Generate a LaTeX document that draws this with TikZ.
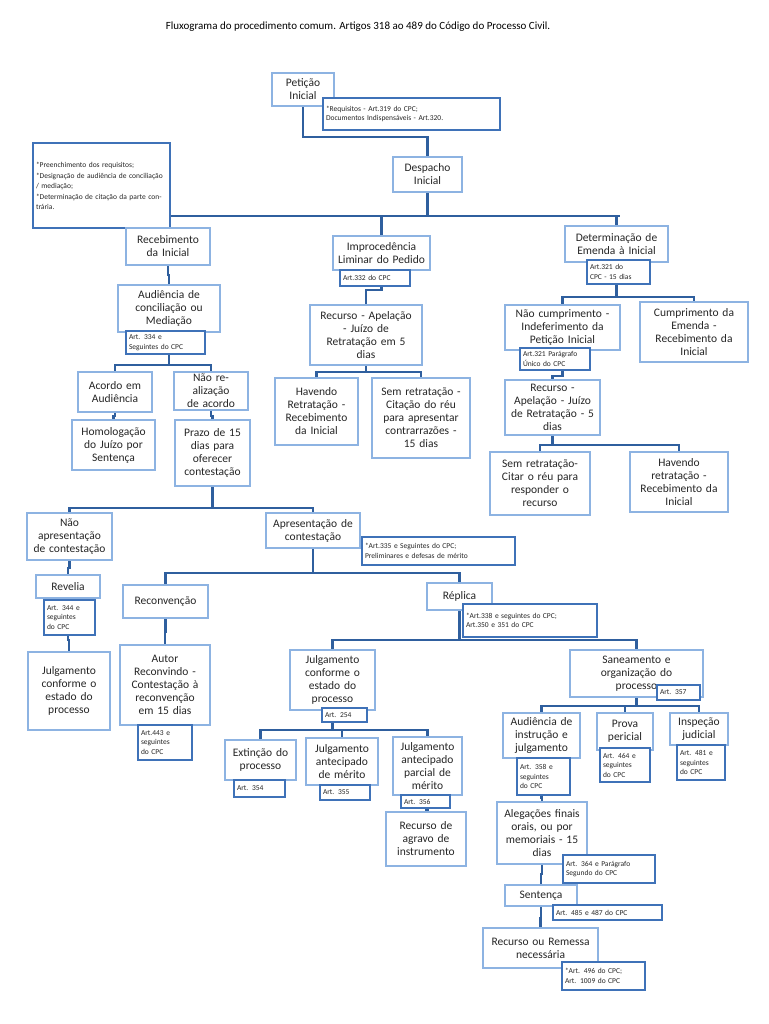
\documentclass[tikz,border=0pt]{standalone}
\usepackage{fontspec}
\setmainfont{Carlito}
\usetikzlibrary{backgrounds}
\definecolor{lb}{HTML}{8DB3E2}
\definecolor{db}{HTML}{3F72B8}
\definecolor{ln}{HTML}{2F5F9E}
\tikzset{
 mb/.style={draw=lb,line width=2.2pt,fill=white,align=center,inner sep=1pt,font=\fontsize{11.5}{13}\selectfont,text=black!85},
 nb/.style={draw=db,line width=2pt,fill=white,align=left,inner sep=1.5pt,font=\fontsize{7.5}{9.5}\selectfont,text=black!85},
 cn/.style={draw=ln,line width=2.2pt}
}
\newcommand\bx[7][mb]{\node[#1,minimum width={#5-#3},minimum height={#6-#4},text width={#5-#3-6}] (#2) at ({(#3+#5)/2},{(#4+#6)/2}) {#7};}
\newcommand\br[3]{\draw[cn] (#1.south) -- (#1.south |- 0,#2) -| (#3.north);}
\begin{document}
\begin{tikzpicture}[x=1pt,y=-1pt]
\useasboundingbox (0,0) rectangle (768,1024);
\node[font=\fontsize{11}{13}\selectfont] (title) at (358,27) {Fluxograma do procedimento comum. Artigos 318 ao 489 do Código do Processo Civil.};
\bx{pet}{272}{73}{334}{106}{Petição\\Inicial}
\bx[nb]{n1}{323}{98}{500}{130}{*Requisitos - Art.319 do CPC;\\*Documentos Indispensáveis - Art.320.}
\bx{desp}{393}{157}{462}{192}{Despacho\\Inicial}
\bx[nb]{n0}{33}{143}{170}{228}{*Preenchimento dos requisitos;\\[2pt]*Designação de audiência de conciliação / mediação;\\[2pt]*Determinação de citação da parte contrária.}
\bx{rec}{126}{228}{210}{265}{Recebimento\\da Inicial}
\bx{imp}{333}{236}{430}{270}{Improcedência\\Liminar do Pedido}
\bx[nb]{n2}{340}{270}{410}{286}{Art.332 do CPC}
\bx{det}{565}{226}{668}{262}{Determinação de\\Emenda à Inicial}
\bx[nb]{n3}{587}{260}{650}{284}{Art.321 do\\CPC - 15 dias}
\bx{aud}{118}{285}{220}{332}{Audiência de\\conciliação ou\\Mediação}
\bx[nb]{n4}{126}{331}{205}{354}{Art. 334 e\\Seguintes do CPC}
\bx{aco}{78}{372}{152}{412}{Acordo em\\Audiência}
\bx{nao}{174}{372}{248}{410}{Não realização\\de acordo}
\bx{hom}{72}{420}{155}{470}{Homologação\\do Juízo por\\Sentença}
\bx{pra}{175}{420}{250}{486}{Prazo de 15\\dias para\\oferecer\\contestação}
\bx{nap}{27}{513}{112}{560}{Não\\apresentação\\de contestação}
\bx{apr}{266}{513}{360}{548}{Apresentação de\\contestação}
\bx[nb]{n5}{362}{537}{515}{565}{*Art.335 e Seguintes do CPC;\\*Preliminares e defesas de mérito}
\bx{rev}{36}{575}{100}{598}{Revelia}
\bx[nb]{n6}{44}{600}{95}{635}{Art. 344 e\\seguintes\\do CPC}
\bx{jce}{28}{652}{110}{730}{Julgamento\\conforme o\\estado do\\processo}
\bx{rcv}{123}{585}{208}{618}{Reconvenção}
\bx{rep}{427}{583}{492}{610}{Réplica}
\bx[nb]{n7}{463}{604}{597}{637}{*Art.338 e seguintes do CPC;\\*Art.350 e 351 do CPC}
\bx{aut}{120}{645}{210}{725}{Autor\\Reconvindo -\\Contestação à\\reconvenção\\em 15 dias}
\bx[nb]{n8}{138}{725}{192}{760}{Art.443 e\\seguintes\\do CPC}
\bx{jul}{290}{650}{375}{710}{Julgamento\\conforme o\\estado do\\processo}
\bx[nb]{n9}{322}{708}{367}{722}{Art. 254}
\bx{san}{570}{650}{703}{697}{Saneamento e\\organização do\\processo}
\bx[nb]{n10}{657}{685}{700}{700}{Art. 357}
\bx{ext}{225}{740}{296}{780}{Extinção do\\processo}
\bx[nb]{n11}{234}{780}{285}{797}{Art. 354}
\bx{jam}{306}{738}{378}{785}{Julgamento\\antecipado\\de mérito}
\bx[nb]{n12}{320}{785}{370}{800}{Art. 355}
\bx{jap}{393}{737}{462}{795}{Julgamento\\antecipado\\parcial de\\mérito}
\bx[nb]{n13}{401}{795}{450}{808}{Art. 356}
\bx{agr}{386}{812}{466}{866}{Recurso de\\agravo de\\instrumento}
\bx{ain}{503}{713}{580}{758}{Audiência de\\instrução e\\julgamento}
\bx[nb]{n14}{517}{758}{570}{795}{Art. 358 e\\seguintes\\do CPC}
\bx{pro}{597}{713}{653}{750}{Prova\\pericial}
\bx[nb]{n15}{600}{748}{650}{782}{Art. 464 e\\seguintes\\do CPC}
\bx{ins}{670}{713}{728}{745}{Inspeção\\judicial}
\bx[nb]{n16}{677}{745}{725}{780}{Art. 481 e\\seguintes\\do CPC}
\bx{ale}{497}{802}{587}{864}{Alegações finais\\orais, ou por\\memoriais - 15\\dias}
\bx[nb]{n17}{563}{855}{655}{883}{Art. 364 e Parágrafo\\Segundo do CPC}
\bx{sen}{505}{885}{577}{906}{Sentença}
\bx[nb]{n18}{553}{905}{662}{920}{Art. 485 e 487 do CPC}
\bx{rrn}{483}{928}{598}{968}{Recurso ou Remessa\\necessária}
\bx[nb]{n19}{562}{962}{645}{990}{*Art. 496 do CPC;\\*Art. 1009 do CPC}
\bx{ra1}{310}{305}{422}{365}{Recurso - Apelação\\- Juízo de\\Retratação em 5\\dias}
\bx{hr1}{275}{378}{358}{445}{Havendo\\Retratação -\\Recebimento\\da Inicial}
\bx{sr1}{372}{378}{470}{458}{Sem retratação -\\Citação do réu\\para apresentar\\contrarrazões -\\15 dias}
\bx{ncu}{505}{305}{620}{350}{Não cumprimento -\\Indeferimento da\\Petição Inicial}
\bx[nb]{n20}{520}{348}{590}{370}{Art.321 Parágrafo\\Único do CPC}
\bx{cum}{640}{302}{748}{362}{Cumprimento da\\Emenda -\\Recebimento da\\Inicial}
\bx{ra2}{505}{380}{600}{435}{Recurso -\\Apelação - Juízo\\de Retratação - 5\\dias}
\bx{sr2}{490}{452}{590}{515}{Sem retratação-\\Citar o réu para\\responder o\\recurso}
\bx{hr2}{630}{452}{728}{512}{Havendo\\retratação -\\Recebimento da\\Inicial}
\begin{scope}[on background layer]
\br{pet}{137}{desp}
\draw[cn] (128,216) -- (620,216);
\br{desp}{216}{rec}\br{desp}{216}{imp}\br{desp}{216}{det}
\br{rec}{275}{aud}
\br{aud}{365}{aco}\br{aud}{365}{nao}
\br{aco}{416}{hom}\br{nao}{416}{pra}
\br{pra}{508}{nap}\br{pra}{508}{apr}
\br{nap}{568}{rev}\br{rev}{640}{jce}
\br{apr}{573}{rcv}\br{apr}{573}{rep}
\br{rcv}{632}{aut}
\br{rep}{640}{jul}\br{rep}{640}{san}
\br{jul}{730}{ext}\br{jul}{730}{jam}\br{jul}{730}{jap}
\br{jap}{810}{agr}
\br{san}{706}{ain}\br{san}{706}{pro}\br{san}{706}{ins}
\br{ain}{798}{ale}\br{ale}{874}{sen}\br{sen}{918}{rrn}
\br{imp}{290}{ra1}
\br{ra1}{372}{hr1}\br{ra1}{372}{sr1}
\br{det}{297}{ncu}\br{det}{297}{cum}
\br{ncu}{376}{ra2}
\br{ra2}{445}{sr2}\br{ra2}{445}{hr2}
\end{scope}
\end{tikzpicture}
\end{document}
